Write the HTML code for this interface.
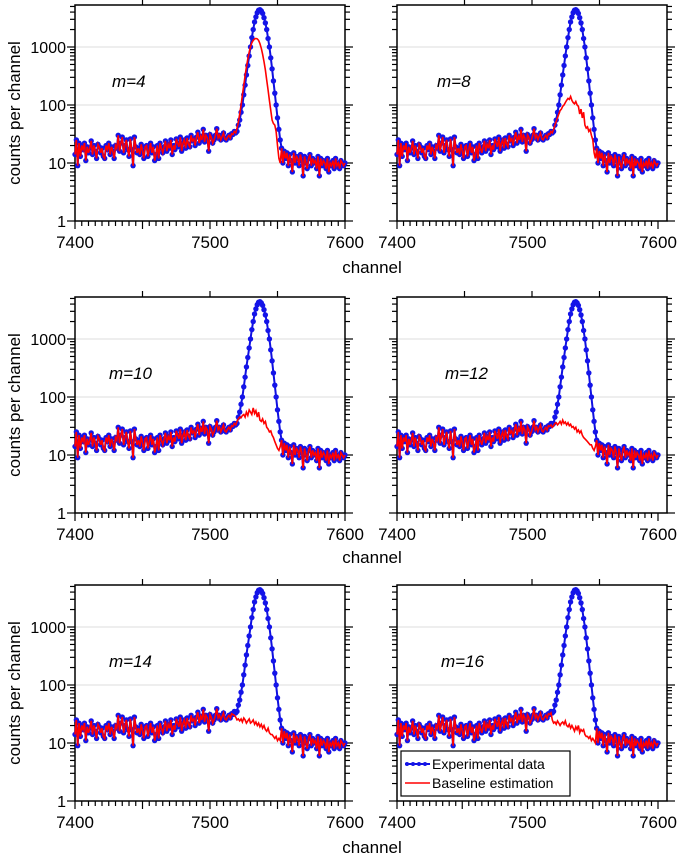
<!DOCTYPE html>
<html><head><meta charset="utf-8"><style>
body{margin:0;background:#fff;}
svg{display:block;font-family:"Liberation Sans",sans-serif;}
</style></head><body>
<svg id="fig" width="685" height="858"></svg>
<script>
const channels0 = 7400;
const dataBg1 = [14,25,9,22,13,20,17,22,11,19,15,18,24,14,20,16,12,21,19,15,
18,13,12,20,17,22,14,19,16,12,20,18,30,16,22,28,15,20,25,17,
13,26,17,9,28,19,15,18,14,21,16,12,19,20,13,17,22,15,19,11,
14,20,12,22,18,15,19,24,16,21,18,25,14,20,17,26,22,19,28,16,
22,25,18,27,21,19,30,24,26,20,28,34,22,29,25,38,23,30,27,16,
31,28,22,25,30,39,27,30,25,29,33,26,25,28,30,27,32,31,35,33];
const dataPeak = [35,45,55,75,100,150,220,330,480,700,1000,1450,2000,2700,3300,3900,4300,4400,4200,3800,3200,2600,2000,1400,1000,650,420,260,160,100,60,38,25,18,10];
const dataBg2 = [16,12,15,9,14,11,7,15,10,13,12,9,14,11,6,13,10,8,12,14,9,12,10,11,8,
13,6,12,9,11,10,8,12,7,10,9,11,8,12,9,10,8,11,10,9,10];
const counts = dataBg1.concat(dataPeak, dataBg2);
const baseStart = 7518;
const base4 = [35,33,40,50,70,100,150,220,320,450,620,820,1000,1180,1300,1380,1400,1380,1300,1150,950,750,560,400,270,180,120,80,55,48,45,35,20,12,10,18,10];
const base8 = [35,33,38,45,52,60,70,80,85,95,100,110,120,130,125,140,120,110,105,115,100,95,70,85,60,75,45,40,42,35,38,30,25,15,12,18,10];
const base10 = [35,33,38,42,45,44,48,50,45,55,48,60,55,50,65,52,58,45,55,40,38,42,35,38,30,28,25,26,22,20,17,15,13,12,14,18,10];
const base12 = [33,30,32,35,36,33,35,38,34,40,35,37,33,36,32,34,30,31,28,30,25,27,24,26,22,20,19,18,17,16,15,15,13,12,14,18,10];
const base14 = [30,28,25,26,24,26,23,27,25,22,24,26,22,23,25,21,23,20,22,19,21,18,20,17,16,18,15,14,14,13,12,13,11,12,11,18,10];
const base16 = [33,25,22,23,21,24,22,20,22,23,21,24,20,19,21,18,20,18,16,19,17,20,15,17,16,17,14,13,13,12,13,11,12,11,10,18,10];
const mLabels = ["m=4","m=8","m=10","m=12","m=14","m=16"];
const baselines = [base4,base8,base10,base12,base14,base16];
const xTicks = [7400,7500,7600];
const yTicks = [1,10,100,1000];
const yTickLabels = ["1","10","100","1000"];

const NS="http://www.w3.org/2000/svg";
const svg=document.getElementById('fig');
function el(tag,attrs,parent){const e=document.createElementNS(NS,tag);for(const k in attrs)e.setAttribute(k,attrs[k]);(parent||svg).appendChild(e);return e;}

const cols=[{L:75,R:345,xEnd:345},{L:397,R:667,xEnd:658}];
const bottoms=[221,513,801];
const H=216, DEC=58;
const mOff=[[37,82],[40,82],[34,82],[48,82],[34,82],[44,82]];

for(let p=0;p<6;p++){
  const c=cols[p%2], B=bottoms[Math.floor(p/2)], T=B-H;
  const g=el('g',{});
  
  
  const X=v=>c.L+(v-7400)*(c.xEnd-c.L)/200;
  const Y=v=>B-Math.log10(v)*DEC;
  [10,100,1000].forEach(v=>{const l=el('line',{x1:c.L,x2:c.R,y1:Y(v),y2:Y(v),stroke:'#ddd','stroke-width':1},g);
    });
  const f=el('rect',{x:c.L,y:T,width:c.R-c.L,height:H,fill:'none',stroke:'#000','stroke-width':1.5},g);
  
  for(let d=0;d<4;d++){for(let k=1;k<10;k++){const v=k*Math.pow(10,d);const y=Y(v);if(y<T)continue;
    const len=k==1?8:5;
    el('line',{x1:c.L-len,x2:c.L,y1:y,y2:y,stroke:'#000','stroke-width':1.2},g);
    el('line',{x1:c.R,x2:c.R+len,y1:y,y2:y,stroke:'#000','stroke-width':1.2},g);}}
  for(let i=1;i<4;i++){const x=c.L+i*(c.R-c.L)/4;el('line',{x1:x,x2:x,y1:T-6,y2:T,stroke:'#000','stroke-width':1.2},g);}
  for(let v=7400;v<=7600;v+=5){const len=(v%50==0)?8:5;el('line',{x1:X(v),x2:X(v),y1:B,y2:B+len,stroke:'#000','stroke-width':1.2},g);}
  xTicks.forEach(v=>{const t=el('text',{x:X(v),y:B+27,'text-anchor':'middle','font-size':17},g);t.textContent=v;
    });
  if(p%2==0){yTicks.forEach((v,i)=>{const t=el('text',{x:c.L-9,y:Y(v)+6,'text-anchor':'end','font-size':16},g);t.textContent=yTickLabels[i];
    });
    const yt=el('text',{x:0,y:0,'text-anchor':'middle','font-size':17,transform:`translate(20,${(T+B)/2}) rotate(-90)`},g);
    yt.textContent='counts per channel';}
  const pts=counts.map((v,i)=>X(channels0+i).toFixed(1)+','+Y(v).toFixed(1)).join(' ');
  const ln=el('polyline',{points:pts,fill:'none',stroke:'#1010e0','stroke-width':2},g);
  
  counts.forEach((v,i)=>{const d=el('circle',{cx:X(channels0+i),cy:Y(v),r:2.7,fill:'#1414e8'},g);
    });
  const bl=baselines[p];
  const bvals=counts.map((v,i)=>{const ch=channels0+i;const j=ch-baseStart;return (j>=0&&j<bl.length)?bl[j]:v;});
  const bpts=bvals.map((v,i)=>X(channels0+i).toFixed(1)+','+Y(v).toFixed(1)).join(' ');
  const rl=el('polyline',{points:bpts,fill:'none',stroke:'#f00','stroke-width':1.6},g);
  
  const ml=el('text',{x:c.L+mOff[p][0],y:T+mOff[p][1],'font-size':17,'font-style':'italic'},g);
  ml.textContent=mLabels[p];
}
[273,563,853].forEach(y=>{const t=el('text',{x:372,y:y,'text-anchor':'middle','font-size':17});t.textContent='channel';
  });
const lg=el('g',{});


el('rect',{x:401,y:751,width:169,height:45,fill:'#fff',stroke:'#000','stroke-width':1.2},lg);
el('line',{x1:405,x2:430,y1:764,y2:764,stroke:'#1010e0','stroke-width':2},lg);
[407,413,419,425].forEach(x=>el('circle',{cx:x,cy:764,r:2,fill:'#1414e8'},lg));
const t1=el('text',{x:432,y:769,'font-size':14},lg);t1.textContent='Experimental data';

el('line',{x1:405,x2:430,y1:783,y2:783,stroke:'#f00','stroke-width':1.6},lg);
const t2=el('text',{x:432,y:788,'font-size':14},lg);t2.textContent='Baseline estimation';

</script>
</body></html>
